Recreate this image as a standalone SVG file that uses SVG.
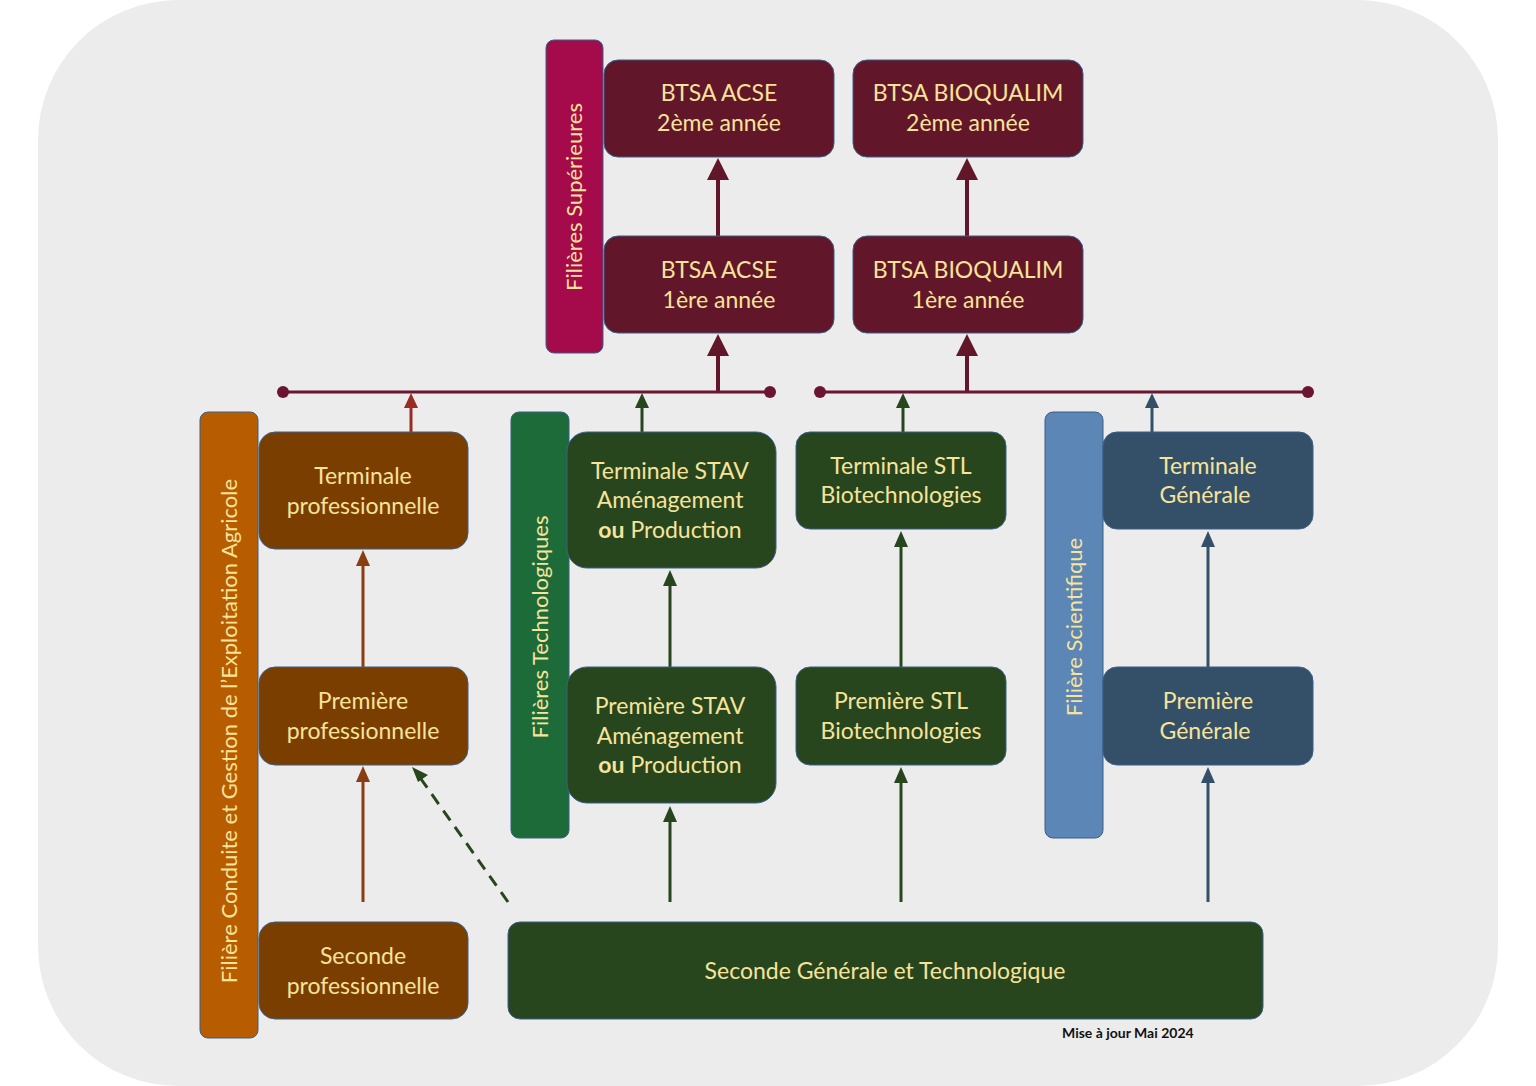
<svg xmlns="http://www.w3.org/2000/svg" width="1536" height="1086" viewBox="0 0 1536 1086">
<style>
.t{font-family:Lato,"Open Sans",sans-serif;font-size:23px;fill:#f7e39a;text-anchor:middle}
.v{font-family:Lato,"Open Sans",sans-serif;font-size:22px;fill:#f7e39a;text-anchor:middle}
.n{stroke:#3a5f8a;stroke-width:1}
</style>
<defs>
<marker id="am" markerWidth="10" markerHeight="10" refX="5" refY="9" orient="auto-start-reverse" markerUnits="userSpaceOnUse" viewBox="0 0 10 10"><path d="M0,10 L5,0 L10,10z" fill="#611729"/></marker>
</defs>
<rect width="1536" height="1086" fill="#fff"/>
<rect x="38" y="0" width="1460" height="1086" rx="140" fill="#ececec"/>
<g id="connectors" fill="none">
<g stroke="#611729" stroke-width="4">
<line x1="718" y1="236" x2="718" y2="178"/><line x1="967" y1="236" x2="967" y2="178"/>
<line x1="718" y1="392" x2="718" y2="354"/><line x1="967" y1="392" x2="967" y2="354"/>
</g>
<g fill="#611729">
<path d="M707,180 L718,158 L729,180z"/><path d="M956,180 L967,158 L978,180z"/>
<path d="M707,356 L718,334 L729,356z"/><path d="M956,356 L967,334 L978,356z"/>
</g>
<g stroke="#6b1530" stroke-width="3"><line x1="283" y1="392" x2="770" y2="392"/><line x1="820" y1="392" x2="1308" y2="392"/></g>
<g fill="#6b1530"><circle cx="283" cy="392" r="6"/><circle cx="770" cy="392" r="6"/><circle cx="820" cy="392" r="6"/><circle cx="1308" cy="392" r="6"/></g>
<line x1="411" y1="432" x2="411" y2="402" stroke="#9b2b22" stroke-width="3"/><path d="M404,408 L411,393 L418,408z" fill="#9b2b22"/>
<line x1="642" y1="432" x2="642" y2="402" stroke="#28461e" stroke-width="3"/><path d="M635,408 L642,393 L649,408z" fill="#28461e"/>
<line x1="903" y1="432" x2="903" y2="402" stroke="#28461e" stroke-width="3"/><path d="M896,408 L903,393 L910,408z" fill="#28461e"/>
<line x1="1152" y1="432" x2="1152" y2="402" stroke="#345068" stroke-width="3"/><path d="M1145,408 L1152,393 L1159,408z" fill="#345068"/>
<g stroke="#8a3d12" stroke-width="3"><line x1="363" y1="667" x2="363" y2="562"/><line x1="363" y1="902" x2="363" y2="778"/></g>
<g fill="#8a3d12"><path d="M356,566 L363,550 L370,566z"/><path d="M356,782 L363,766 L370,782z"/></g>
<g stroke="#28461e" stroke-width="3"><line x1="670" y1="667" x2="670" y2="582"/><line x1="670" y1="902" x2="670" y2="818"/><line x1="901" y1="667" x2="901" y2="543"/><line x1="901" y1="902" x2="901" y2="779"/></g>
<g fill="#28461e"><path d="M663,586 L670,570 L677,586z"/><path d="M663,822 L670,806 L677,822z"/><path d="M894,547 L901,531 L908,547z"/><path d="M894,783 L901,767 L908,783z"/></g>
<g stroke="#345068" stroke-width="3"><line x1="1208" y1="667" x2="1208" y2="543"/><line x1="1208" y1="902" x2="1208" y2="779"/></g>
<g fill="#345068"><path d="M1201,547 L1208,531 L1215,547z"/><path d="M1201,783 L1208,767 L1215,783z"/></g>
<line x1="508" y1="902" x2="421" y2="779" stroke="#28461e" stroke-width="3" stroke-dasharray="12,8"/>
<path d="M412,767 L428,775 L418,782z" fill="#28461e" transform="rotate(0)"/>
</g>
<g id="sup"><rect x="546" y="40" width="57" height="313" rx="8" fill="#a50a4a" class="n"/><text class="v" transform="translate(582,197) rotate(-90)">Filières Supérieures</text></g>
<g id="acse2"><rect x="604" y="60" width="230" height="97" rx="14" fill="#611729" class="n"/><text class="t" x="719" y="101">BTSA ACSE</text><text class="t" x="719" y="131">2ème année</text></g>
<g id="bioq2"><rect x="853" y="60" width="230" height="97" rx="14" fill="#611729" class="n"/><text class="t" x="968" y="101">BTSA BIOQUALIM</text><text class="t" x="968" y="131">2ème année</text></g>
<g id="acse1"><rect x="604" y="236" width="230" height="97" rx="14" fill="#611729" class="n"/><text class="t" x="719" y="278">BTSA ACSE</text><text class="t" x="719" y="308">1ère année</text></g>
<g id="bioq1"><rect x="853" y="236" width="230" height="97" rx="14" fill="#611729" class="n"/><text class="t" x="968" y="278">BTSA BIOQUALIM</text><text class="t" x="968" y="308">1ère année</text></g>
<g id="cgea"><rect x="200" y="412" width="58" height="626" rx="8" fill="#b85c00" class="n"/><text class="v" transform="translate(237,731) rotate(-90)">Filière Conduite et Gestion de l’Exploitation Agricole</text></g>
<g id="tpro"><rect x="259" y="432" width="209" height="117" rx="16" fill="#7a3e00" class="n"/><text class="t" x="363" y="484">Terminale</text><text class="t" x="363" y="514">professionnelle</text></g>
<g id="ppro"><rect x="259" y="667" width="209" height="98" rx="16" fill="#7a3e00" class="n"/><text class="t" x="363" y="709">Première</text><text class="t" x="363" y="739">professionnelle</text></g>
<g id="spro"><rect x="259" y="922" width="209" height="97" rx="16" fill="#7a3e00" class="n"/><text class="t" x="363" y="964">Seconde</text><text class="t" x="363" y="994">professionnelle</text></g>
<g id="tech"><rect x="511" y="412" width="58" height="426" rx="8" fill="#1e6b3a" class="n"/><text class="v" transform="translate(548,627) rotate(-90)">Filières Technologiques</text></g>
<g id="tstav"><rect x="567" y="432" width="209" height="136" rx="20" fill="#28461e" class="n"/><text class="t" x="670" y="479">Terminale STAV</text><text class="t" x="670" y="508">Aménagement</text><text class="t" x="670" y="538"><tspan font-weight="bold">ou</tspan> Production</text></g>
<g id="pstav"><rect x="567" y="667" width="209" height="136" rx="20" fill="#28461e" class="n"/><text class="t" x="670" y="714">Première STAV</text><text class="t" x="670" y="744">Aménagement</text><text class="t" x="670" y="773"><tspan font-weight="bold">ou</tspan> Production</text></g>
<g id="tstl"><rect x="796" y="432" width="210" height="97" rx="14" fill="#28461e" class="n"/><text class="t" x="901" y="474">Terminale  STL</text><text class="t" x="901" y="503">Biotechnologies</text></g>
<g id="pstl"><rect x="796" y="667" width="210" height="98" rx="14" fill="#28461e" class="n"/><text class="t" x="901" y="709">Première  STL</text><text class="t" x="901" y="739">Biotechnologies</text></g>
<g id="sci"><rect x="1045" y="412" width="58" height="426" rx="8" fill="#5b86b5" class="n"/><text class="v" transform="translate(1082,627) rotate(-90)">Filière Scientifique</text></g>
<g id="tgen"><rect x="1103" y="432" width="210" height="97" rx="14" fill="#345068" class="n"/><text class="t" x="1208" y="474">Terminale</text><text class="t" x="1205" y="503">Générale</text></g>
<g id="pgen"><rect x="1103" y="667" width="210" height="98" rx="14" fill="#345068" class="n"/><text class="t" x="1208" y="709">Première</text><text class="t" x="1205" y="739">Générale</text></g>
<g id="sgt"><rect x="508" y="922" width="755" height="97" rx="12" fill="#28461e" class="n"/><text class="t" x="885" y="979">Seconde Générale et Technologique</text></g>
<text x="1062" y="1038" font-family="Lato,'Open Sans',sans-serif" font-size="14" font-weight="bold" fill="#111">Mise à jour Mai 2024</text>
</svg>
